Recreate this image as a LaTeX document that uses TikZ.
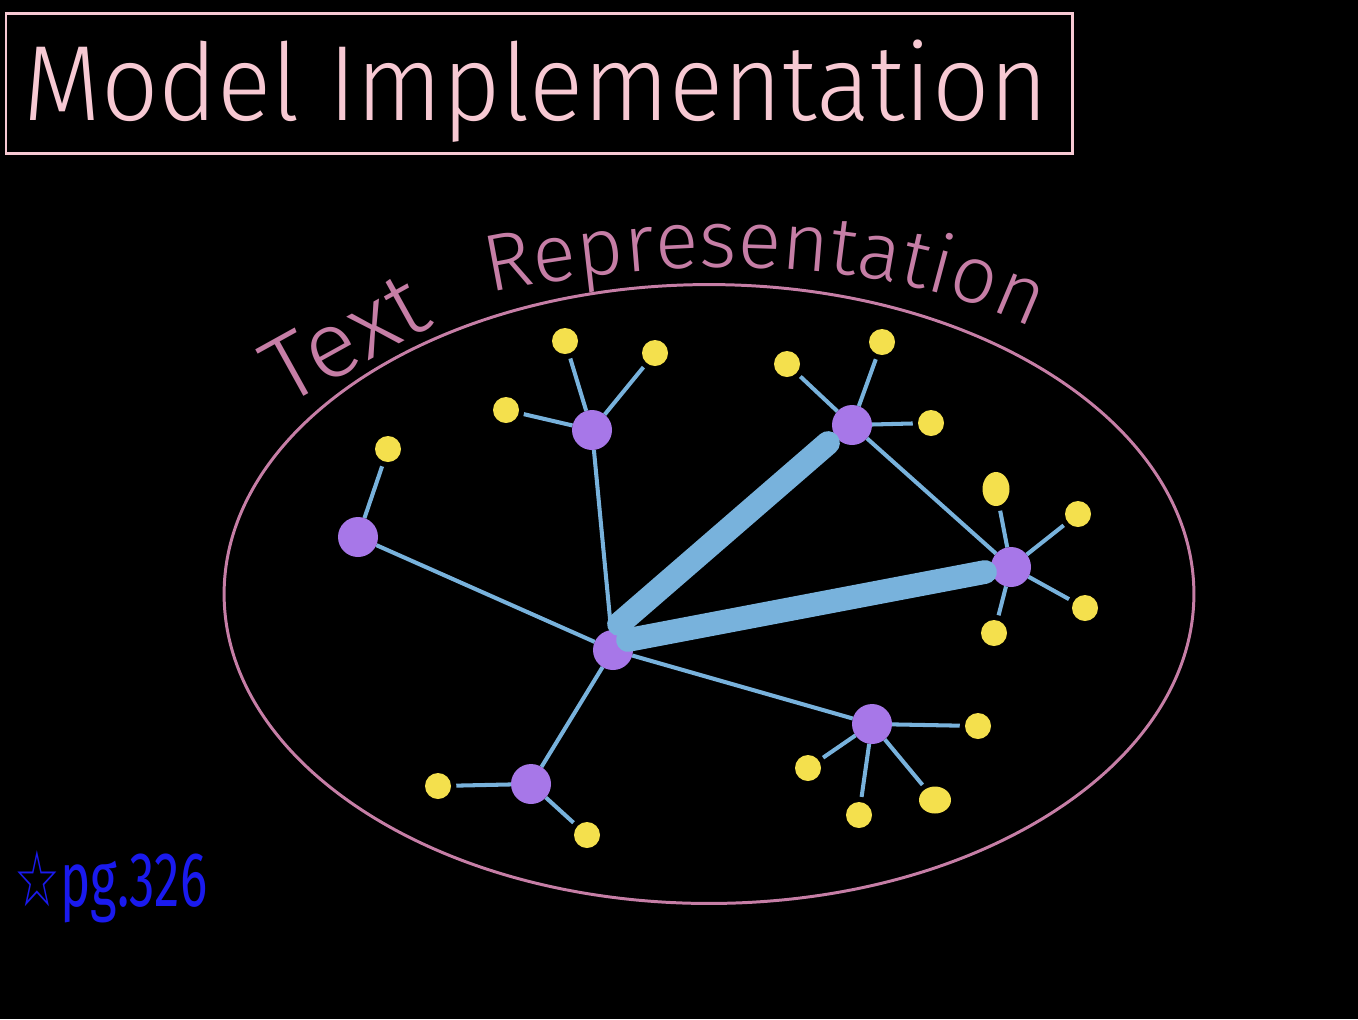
\documentclass[tikz,border=0pt]{standalone}
\usepackage{fontspec}
\setmainfont{Fira Sans Light}
\newfontfamily\notefont{Fira Sans}
\newfontfamily\symfont{DejaVu Sans}
\newcommand\repfont{\fontsize{46}{46}\selectfont}
\usetikzlibrary{calc,backgrounds,shapes.geometric,decorations.text}
\definecolor{titlepink}{HTML}{F7C9D3}
\definecolor{mauve}{HTML}{C67EA6}
\definecolor{hubpurple}{HTML}{A777E8}
\definecolor{leafyellow}{HTML}{F4E04D}
\definecolor{linkblue}{HTML}{78B2DC}
\definecolor{notebluec}{HTML}{1A1AEE}
\begin{document}
\begin{tikzpicture}[x=0.02cm,y=-0.02cm,
  hub/.style={circle,fill=hubpurple,minimum size=0.8cm,inner sep=0pt,outer sep=0pt},
  leaf/.style={circle,fill=leafyellow,minimum size=0.52cm,inner sep=0pt,outer sep=0pt},
  oval/.style={ellipse,fill=leafyellow,inner sep=0pt,outer sep=0pt},
  link/.style={draw=linkblue,line width=2.3pt},
  strong/.style={draw=linkblue,line width=13.5pt,line cap=round},
  label/.style={inner sep=0pt,outer sep=0pt}]

% page and frame
\begin{scope}[on background layer]
  \fill[black] (0,0) rectangle (1358,1019);
\end{scope}
\useasboundingbox (0,0) rectangle (1358,1019);

% title
\draw[titlepink,line width=1.7pt] (6,13) rectangle (1072,153);
\node[label,text=titlepink] (title) at (536,91)
  {\resizebox*{20.5cm}{2.05cm}{Model Implementation}};

% text representation region
\draw[mauve,line width=1.7pt] (709,594) ellipse [x radius=9.7cm, y radius=6.19cm];
\node[label,text=mauve,rotate=29] (word1) at (345,338)
  {\resizebox*{3.4cm}{1.3cm}{Text}};
\path[decorate,decoration={text along path,text color=mauve,
      text={|\repfont|Representation}}]
  (490,293) .. controls (700,250) and (900,260) .. (1045,334);

% hubs
\node[hub] (c) at (613,650) {};
\node[hub] (a) at (358,537) {};
\node[hub] (b) at (592,430) {};
\node[hub] (d) at (852,425) {};
\node[hub] (e) at (1011,567) {};
\node[hub] (f) at (872,724) {};
\node[hub,minimum width=0.72cm] (g) at (531,784) {};

% leaves
\node[leaf] (a1) at (388,449) {};
\node[leaf] (b1) at (565,341) {};
\node[leaf] (b2) at (655,353) {};
\node[leaf] (b3) at (506,410) {};
\node[leaf] (d1) at (787,364) {};
\node[leaf] (d2) at (882,342) {};
\node[leaf] (d3) at (931,423) {};
\node[oval,minimum width=0.54cm,minimum height=0.68cm] (e1) at (996,489) {};
\node[leaf] (e2) at (1078,514) {};
\node[leaf] (e3) at (1085,608) {};
\node[leaf] (e4) at (994,633) {};
\node[leaf] (f1) at (978,726) {};
\node[leaf] (f2) at (808,768) {};
\node[leaf] (f3) at (859,815) {};
\node[oval,minimum width=0.64cm,minimum height=0.54cm] (f4) at (935,800) {};
\node[leaf] (g1) at (438,786) {};
\node[leaf] (g2) at (587,835) {};

% ends of the two heavy links
\coordinate (cd0) at (619,624);
\coordinate (cd1) at (828,443);
\coordinate (ce0) at (628,640);
\coordinate (ce1) at (985,572);

\begin{scope}[on background layer]
  \draw[link] (c) -- (a);
  \draw[link] (c) -- (b);
  \draw[link] (c) -- (f);
  \draw[link] (c) -- (g);
  \draw[link] (d) -- (e);
  \foreach \h/\l in {a/a1,b/b1,b/b2,b/b3,d/d1,d/d2,d/d3,e/e1,e/e2,e/e3,e/e4,f/f1,f/f2,f/f3,f/f4,g/g1,g/g2}
    \draw[link,shorten >=3pt] (\h) -- (\l);
\end{scope}
\draw[strong] (cd0) -- (cd1);
\draw[strong] (ce0) -- (ce1);

% page reference
\node[label,text=notebluec] (ref) at (111,887)
  {\resizebox*{3.85cm}{1.45cm}{{\symfont ☆}\notefont pg.326}};
\end{tikzpicture}
\end{document}
